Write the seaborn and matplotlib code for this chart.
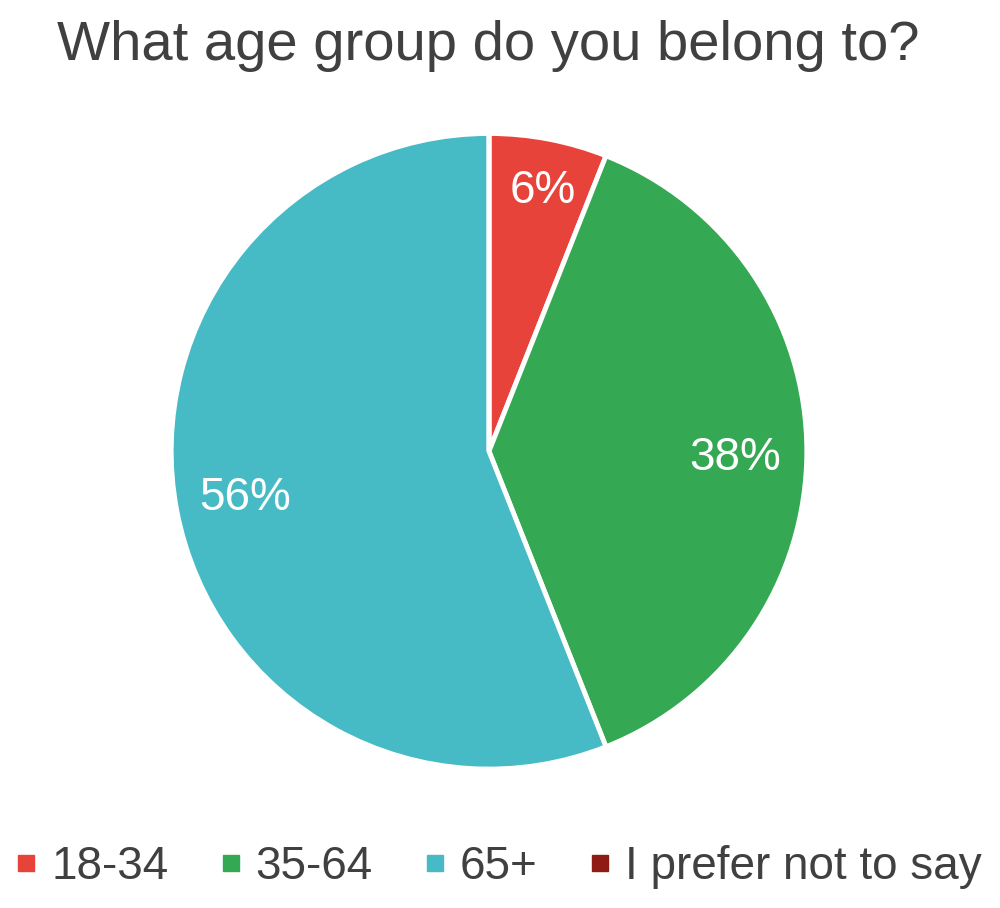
import matplotlib
matplotlib.use('Agg')
import matplotlib.pyplot as plt
from matplotlib.lines import Line2D
import seaborn as sns

# 数据
categories = ['18-34', '35-64', '65+', 'I prefer not to say']
shares = [6, 38, 56, 0]
colors = ['#E8433A', '#34A853', '#46BBC5', '#8E1B14']

sns.set_theme(style='white')
plt.rcParams['font.family'] = ['Liberation Sans', 'DejaVu Sans']

fig = plt.figure(figsize=(10, 9.08), dpi=100)
ax = fig.add_axes([0.171, 0.153, 0.636, 0.700])


def fmt_pct(p):
    return f'{p:.0f}%' if p > 0.5 else ''


wedges, texts, autotexts = ax.pie(
    shares, colors=colors, startangle=90, counterclock=False,
    autopct=fmt_pct, pctdistance=0.78,
    wedgeprops={'edgecolor': 'white', 'linewidth': 3.5},
    textprops={'color': 'white', 'fontsize': 33},
)
# 标签位置微调
autotexts[0].set_position((0.17, 0.82))
autotexts[1].set_position((0.775, -0.02))
ax.set_xlim(-1, 1)
ax.set_ylim(-1, 1)
ax.set_aspect('equal')

fig.text(0.488, 1 - 60 / 908, 'What age group do you belong to?', fontsize=40.5,
         color='#404040', ha='center', va='baseline')

handles = [Line2D([0], [0], marker='s', linestyle='', markersize=11.5,
                  markerfacecolor=c, markeredgecolor=c) for c in colors]
fig.legend(handles, categories, loc='center', bbox_to_anchor=(0.5, 1 - 867 / 908),
           ncol=4, frameon=False, fontsize=33, labelcolor='#404040',
           handlelength=0.35, handletextpad=0.37, columnspacing=1.18,
           borderpad=0, borderaxespad=0)

fig.savefig('out.png', dpi=100)
